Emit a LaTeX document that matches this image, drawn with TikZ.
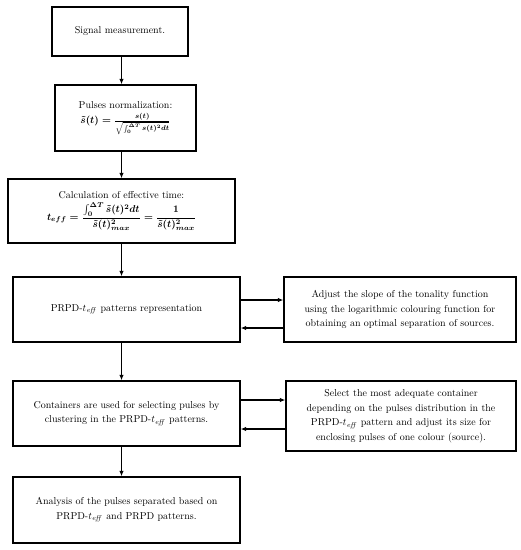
\documentclass[tikz,border=0pt]{standalone}
\usepackage{amsmath}
\usetikzlibrary{arrows.meta}
\begin{document}
\begin{tikzpicture}[x=1pt,y=-1pt,
  box/.style={draw,line width=1.3pt,minimum width=#1,inner sep=0pt,align=center,font=\fontsize{10}{14.5}\selectfont},
  arr/.style={-{Latex[length=5.5pt,width=4.5pt]},line width=1.1pt}]
\useasboundingbox (0,0) rectangle (521,550);
\def\te{$t_{\mathit{eff}}$}
\node[box=136pt,minimum height=49pt] (b1) at (120,31.5) {Signal measurement.};
\node[box=141pt,minimum height=66pt] (b2) at (125.5,118) {Pulses normalization:\\[1pt]
  {\boldmath$\tilde{s}(t)=\frac{s(t)}{\sqrt{\int_0^{\Delta T}s(t)^2dt}}$}};
\node[box=227pt,minimum height=64pt] (b3) at (121.5,211) {Calculation of effective time:\\[3pt]
  {\boldmath$t_{eff}=\dfrac{\int_0^{\Delta T}\tilde{s}(t)^2dt}{\tilde{s}(t)^2_{max}}=\dfrac{1}{\tilde{s}(t)^2_{max}}$}};
\node[box=227pt,minimum height=65pt] (b4) at (126.5,309.5) {PRPD-\te{} patterns representation};
\node[box=232pt,minimum height=65pt] (r1) at (400,309.5) {Adjust the slope of the tonality function\\using the logarithmic colouring function for\\obtaining an optimal separation of sources.};
\node[box=227pt,minimum height=65pt] (b5) at (126.5,413.5) {Containers are used for selecting pulses by\\clustering in the PRPD-\te{} patterns.};
\node[box=230pt,minimum height=70pt] (r2) at (401,416) {Select the most adequate container\\depending on the pulses distribution in the\\PRPD-\te{} pattern and adjust its size for\\enclosing pulses of one colour (source).};
\node[box=227pt,minimum height=66pt] (b6) at (126.5,510) {Analysis of the pulses separated based on\\PRPD-\te{} and PRPD patterns.};
\coordinate (ax) at (121.5,0);
\coordinate (y1) at (0,300);
\coordinate (y2) at (0,328);
\coordinate (y3) at (0,400);
\coordinate (y4) at (0,429);
\draw[arr] (b1.south -| ax) -- (b2.north -| ax);
\draw[arr] (b2.south -| ax) -- (b3.north -| ax);
\draw[arr] (b3.south -| ax) -- (b4.north -| ax);
\draw[arr] (b4.south -| ax) -- (b5.north -| ax);
\draw[arr] (b5.south -| ax) -- (b6.north -| ax);
\draw[arr] (b4.east |- y1) -- (r1.west |- y1);
\draw[arr] (r1.west |- y2) -- (b4.east |- y2);
\draw[arr] (b5.east |- y3) -- (r2.west |- y3);
\draw[arr] (r2.west |- y4) -- (b5.east |- y4);
\end{tikzpicture}
\end{document}
